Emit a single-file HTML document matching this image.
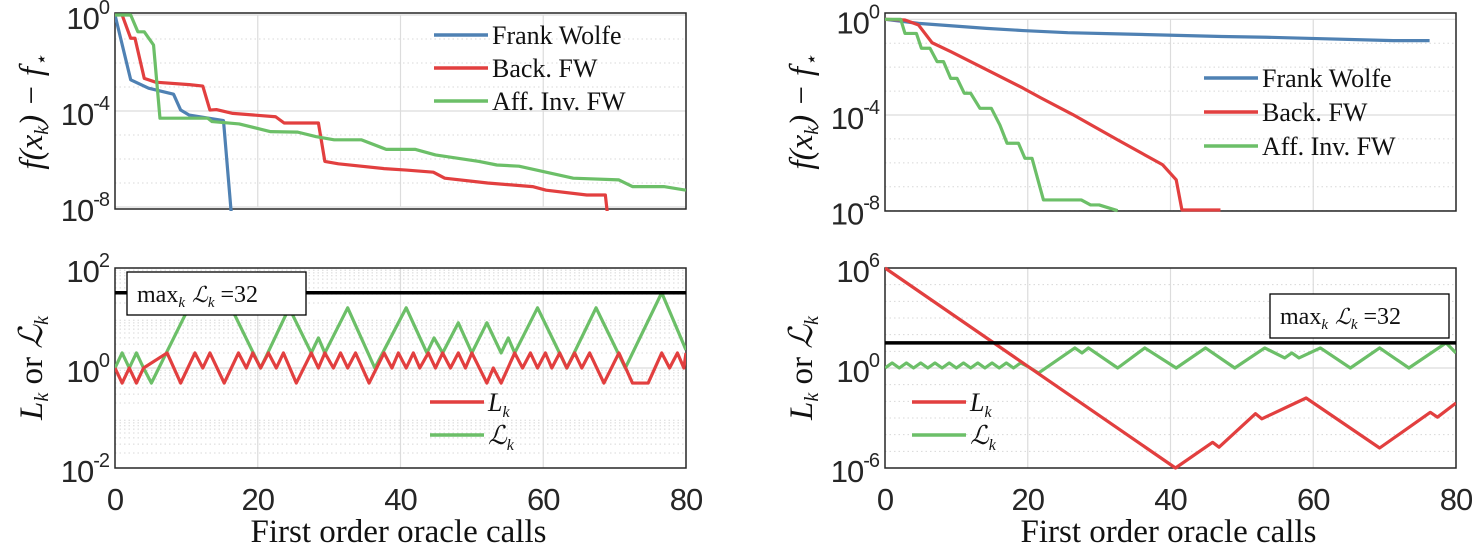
<!DOCTYPE html>
<html><head><meta charset="utf-8"><style>
body{margin:0;background:#fff;}
svg{display:block;}
.tick{font-family:"Liberation Sans",sans-serif;font-size:31px;fill:#262626;letter-spacing:-1px;}
.sup{font-size:20px;}
.ser{font-family:"Liberation Serif",serif;fill:#111;}
</style></head><body>
<svg id="c" width="1472" height="548" xmlns="http://www.w3.org/2000/svg"></svg>
<script>
// ===== data =====
const xTicks=[0,20,40,60,80];
// top-left (log10 values of f - f*)
const tlFWx=[0,2.2,4.7,8.2,9.2,10.4,15.2,16.3];
const tlFWy=[0,-2.7,-3.05,-3.3,-3.96,-4.17,-4.4,-8.3];
const tlBFx=[1,2.2,2.8,4.1,5.7,10.4,12.3,13.3,14.2,16.5,22.5,23.7,28.5,29.4,31.3,37.7,40.8,44.6,46.2,52.2,58.5,60.4,66.1,68.7,69];
const tlBFy=[0,-0.97,-0.97,-2.64,-2.8,-2.9,-2.96,-3.96,-3.94,-4.1,-4.24,-4.5,-4.5,-6.1,-6.2,-6.4,-6.46,-6.55,-6.8,-7.0,-7.15,-7.3,-7.5,-7.5,-8.3];
const tlAFx=[0,2.2,3.2,4.1,5.4,6.3,13,13.6,17.4,21.8,25.6,28.2,30.7,34.5,38,42.1,44.9,51,53.5,56.6,64.2,70.6,72.5,76.9,80];
const tlAFy=[0,0,-0.7,-0.7,-1.25,-4.3,-4.3,-4.44,-4.54,-4.86,-4.88,-5.07,-5.2,-5.2,-5.6,-5.6,-5.83,-6.1,-6.25,-6.3,-6.8,-6.87,-7.15,-7.15,-7.3];
// top-right
const trFWx=[0,4.7,14.2,19.3,25.6,32.6,39.6,47.2,53.5,59.8,71.2,76.3];
const trFWy=[0,-0.17,-0.38,-0.47,-0.56,-0.61,-0.66,-0.72,-0.75,-0.8,-0.89,-0.89];
const trBFx=[0,2.8,4.7,6.6,9.2,14.2,19.3,21.8,26.3,32.6,38.9,40.8,41.6,47];
const trBFy=[0,-0.03,-0.24,-0.98,-1.35,-2.1,-2.87,-3.28,-3.98,-5.04,-6.08,-6.71,-7.97,-7.97];
const trAFx=[0,2.2,2.8,4.4,5.1,6.3,7.3,8.2,9.2,10.1,11.1,12,13.3,14.9,16.1,17.1,18.7,19.6,20.6,22.2,27.5,28.8,30,32.6];
const trAFy=[0,0,-0.59,-0.59,-1.21,-1.21,-1.77,-1.77,-2.47,-2.47,-3.09,-3.09,-3.72,-3.72,-4.42,-5.18,-5.18,-5.81,-5.81,-7.55,-7.55,-7.76,-7.76,-8.0];
// bottom-left (log2 values)
const blLx=[0,1,2,3,4,7.3,9.2,11.2,12.3,13.3,15.3,17.3,18.4,19.3,20.4,21.5,22.6,23.6,25.4,27.5,28.5,29.4,30.6,31.6,32.6,33.7,35.6,37.7,38.8,39.7,40.8,41.8,42.7,43.9,44.9,45.9,47,48.1,49.1,50,52.1,53,54.1,56,57.1,58.2,59.2,60.3,61.2,62.3,63.3,64.4,65.4,66.5,68.5,70.6,72.5,74.7,76.6,77.7,78.8,79.7,80];
const blLy=[0,-1,0,-1,0,1,-1,1,0,1,-1,1,0,1,0,1,0,1,-1,1,0,1,0,1,0,1,-1,1,0,1,0,1,0,1,0,1,0,1,0,1,-1,0,-1,1,0,1,0,1,0,1,0,1,0,1,-1,1,-1,-1,1,0,1,0,1];
const blGx=[0,1,2,3,4,5.1,9.8,12,15,16.8,20.4,24.4,27.5,28.5,29.4,32.6,36.4,40.8,43.7,44.7,45.9,48.1,50,52.1,54.1,55.1,56,59.2,63.3,67.4,71.5,76.6,80];
const blGy=[0,1,0,1,0,-1,3.5,5,5,3.5,0,4,1,2,1,4,0,4,1,2,1,3,1,3,1,2,1,4,0,4,0,5,1.2];
// bottom-right (log10 for L, log2 for calL)
const brLx=[0,40.7,45.9,46.8,51.9,52.8,59,69.3,76.4,77.4,80];
const brLy=[6,-6,-4.46,-4.75,-2.74,-3.05,-1.8,-4.8,-2.66,-2.95,-2.1];
const brGx=[0,1,2,3,4,5,6,7,8,9,10,11,12,13,14,15,16,17,18,19,20,21.5,26.6,27.6,28.5,32.6,36.4,40.8,44.9,49,53.2,56,57,58,61,65.2,69.3,73.4,78.6,80];
const brGy=[0,1,0,1,0,1,0,1,0,1,0,1,0,1,0,1,0,1,0,1,0.3,-1,4,3,4,0,4,0,4,0,4,2,3,2,4,0,4,0,5,3];
const maxL=32;

const S=document.getElementById('c');const NS='http://www.w3.org/2000/svg';
function mk(t,a,p){const e=document.createElementNS(NS,t);for(const k in a)e.setAttribute(k,a[k]);(p||S).appendChild(e);return e;}
const BLUE='#4f81b3',RED='#e23f3f',GREEN='#6cbf68';
function panel(P){
  const g=mk('g',{});
  
  
  const X=v=>P.x0+(v/80)*(P.x1-P.x0);
  const Y=v=>P.yTop+(P.lmax-v)/(P.lmax-P.lmin)*(P.yBot-P.yTop);
  for(let d=P.lmin;d<P.lmax;d++){
    for(const m of P.minor){const v=d+Math.log10(m);if(v>P.lmax)continue;
      const l=mk('line',{x1:P.x0,x2:P.x1,y1:Y(v),y2:Y(v),stroke:'#d8d8d8','stroke-width':1,'stroke-dasharray':'1.5,3'},g);
      }
  }
  for(const v of P.major){const l=mk('line',{x1:P.x0,x2:P.x1,y1:Y(v),y2:Y(v),stroke:'#dcdcdc','stroke-width':1.2},g);
    }
  for(const t of xTicks.slice(1,-1)){const l=mk('line',{x1:X(t),x2:X(t),y1:P.yTop,y2:P.yBot,stroke:'#dcdcdc','stroke-width':1.2},g);
    }
  const r=mk('rect',{x:P.x0,y:P.bTop,width:P.x1-P.x0,height:P.bBot-P.bTop,fill:'none',stroke:'#262626','stroke-width':1.5},g);
  
  for(const v of P.labels){const t=mk('text',{x:P.x0-6,y:Y(v)+14,'text-anchor':'end',class:'tick'},g);
    
    t.appendChild(document.createTextNode('10'));const s=mk('tspan',{class:'sup',dy:-15},t);s.textContent=String(v);}
  if(P.xlab){for(const t of xTicks){const e=mk('text',{x:X(t),y:P.bBot+42,'text-anchor':'middle',class:'tick'},g);e.textContent=t;
    }
    const xl=mk('text',{x:(P.x0+P.x1)/2-2,y:P.bBot+74,'text-anchor':'middle',class:'ser','font-size':33},g);xl.textContent='First order oracle calls';
    }
  const cp='cp'+P.name;const c=mk('clipPath',{id:cp},g);mk('rect',{x:P.x0,y:P.bTop-2,width:P.x1-P.x0,height:P.bBot-P.bTop+4},c);
  for(const s of P.series){
    const pts=s.x.map((v,i)=>X(v)+','+Y(s.f(s.y[i]))).join(' ');
    const pl=mk('polyline',{points:pts,fill:'none',stroke:s.c,'stroke-width':3.2,'stroke-linejoin':'round','clip-path':'url(#'+cp+')'},g);
    
  }
  if(P.hline!==undefined){const l=mk('line',{x1:P.x0,x2:P.x1,y1:Y(Math.log10(P.hline)),y2:Y(Math.log10(P.hline)),stroke:'#000','stroke-width':3.5},g);
    }
  return {g,X,Y};
}
const id=v=>v, l2=v=>v*Math.log10(2);
const blMinor=[2,3,4,5,6,7,8,9];
function ylabel(x,y,txt,name){const t=mk('text',{transform:`translate(${x},${y}) rotate(-90)`,'text-anchor':'middle',class:'ser','font-size':33,'font-style':'italic'});
  t.innerHTML=txt;}
function legend(x,y0,dy,items,name){const g=mk('g',{});
  items.forEach((it,i)=>{const y=y0+i*dy;mk('line',{x1:x,x2:x+54,y1:y,y2:y,stroke:it[0],'stroke-width':3.5},g);
    const t=mk('text',{x:x+58,y:y+9,class:'ser','font-size':26},g);t.innerHTML=it[1];
    });}
function box(x,y,w,h,name){const g=mk('g',{});
  mk('rect',{x,y,width:w,height:h,fill:'#fff',stroke:'#000','stroke-width':1.3},g);
  const t=mk('text',{x:x+10,y:y+30,class:'ser','font-size':24},g);
  t.innerHTML='max<tspan font-size="15" font-style="italic" dy="5">k</tspan><tspan dy="-5" font-style="italic" font-family="DejaVu Serif" font-size="22"> ℒ</tspan><tspan font-size="15" font-style="italic" dy="5">k</tspan><tspan dy="-5"> =32</tspan>';}

panel({name:'top-left-panel',x0:115,x1:686,bTop:13,bBot:209,yTop:15,yBot:207,lmax:0,lmin:-8,minor:[1],major:[0,-4,-8],labels:[0,-4,-8],
  series:[{x:tlFWx,y:tlFWy,f:id,c:BLUE,n:'frank-wolfe-line'},{x:tlBFx,y:tlBFy,f:id,c:RED,n:'back-fw-line'},{x:tlAFx,y:tlAFy,f:id,c:GREEN,n:'aff-inv-fw-line'}]});
panel({name:'top-right-panel',x0:885,x1:1456,bTop:13,bBot:211,yTop:19.3,yBot:210.7,lmax:0,lmin:-8,minor:[1],major:[0,-4,-8],labels:[0,-4,-8],
  series:[{x:trFWx,y:trFWy,f:id,c:BLUE,n:'frank-wolfe-line'},{x:trBFx,y:trBFy,f:id,c:RED,n:'back-fw-line'},{x:trAFx,y:trAFy,f:id,c:GREEN,n:'aff-inv-fw-line'}]});
panel({name:'bottom-left-panel',x0:115,x1:686,bTop:268,bBot:468,yTop:268,yBot:468,lmax:2,lmin:-2,minor:blMinor,major:[0],labels:[2,0,-2],xlab:true,hline:maxL,
  series:[{x:blGx,y:blGy,f:l2,c:GREEN,n:'calL-line'},{x:blLx,y:blLy,f:l2,c:RED,n:'L-line'}]});
panel({name:'bottom-right-panel',x0:885,x1:1456,bTop:268,bBot:468,yTop:268,yBot:468,lmax:6,lmin:-6,minor:[1],major:[0],labels:[6,0,-6],xlab:true,hline:maxL,
  series:[{x:brGx,y:brGy,f:l2,c:GREEN,n:'calL-line'},{x:brLx,y:brLy,f:id,c:RED,n:'L-line'}]});

box(127,272,179,43,'max-annotation-left');
box(1270,294,179,44,'max-annotation-right');
legend(434,35,33,[[BLUE,'Frank Wolfe'],[RED,'Back. FW'],[GREEN,'Aff. Inv. FW']],'legend-top-left');
legend(1204,78,34,[[BLUE,'Frank Wolfe'],[RED,'Back. FW'],[GREEN,'Aff. Inv. FW']],'legend-top-right');
legend(430,402,33,[[RED,'<tspan font-style="italic">L</tspan><tspan font-size="16" font-style="italic" dy="6">k</tspan>'],[GREEN,'<tspan font-style="italic" font-family="DejaVu Serif">ℒ</tspan><tspan font-size="16" font-style="italic" dy="6">k</tspan>']],'legend-bottom-left');
legend(912,402,33,[[RED,'<tspan font-style="italic">L</tspan><tspan font-size="16" font-style="italic" dy="6">k</tspan>'],[GREEN,'<tspan font-style="italic" font-family="DejaVu Serif">ℒ</tspan><tspan font-size="16" font-style="italic" dy="6">k</tspan>']],'legend-bottom-right');
ylabel(42,112,'f(x<tspan font-size="20" dy="6">k</tspan><tspan dy="-6">) − f</tspan><tspan font-size="20" dy="6">⋆</tspan>','y-axis-title-top-left');
ylabel(812,112,'f(x<tspan font-size="20" dy="6">k</tspan><tspan dy="-6">) − f</tspan><tspan font-size="20" dy="6">⋆</tspan>','y-axis-title-top-right');
ylabel(42,368,'L<tspan font-size="20" dy="6">k</tspan><tspan dy="-6" font-style="normal"> or </tspan><tspan font-family="DejaVu Serif">ℒ</tspan><tspan font-size="20" dy="6">k</tspan>','y-axis-title-bottom-left');
ylabel(812,368,'L<tspan font-size="20" dy="6">k</tspan><tspan dy="-6" font-style="normal"> or </tspan><tspan font-family="DejaVu Serif">ℒ</tspan><tspan font-size="20" dy="6">k</tspan>','y-axis-title-bottom-right');
</script>
</body></html>
